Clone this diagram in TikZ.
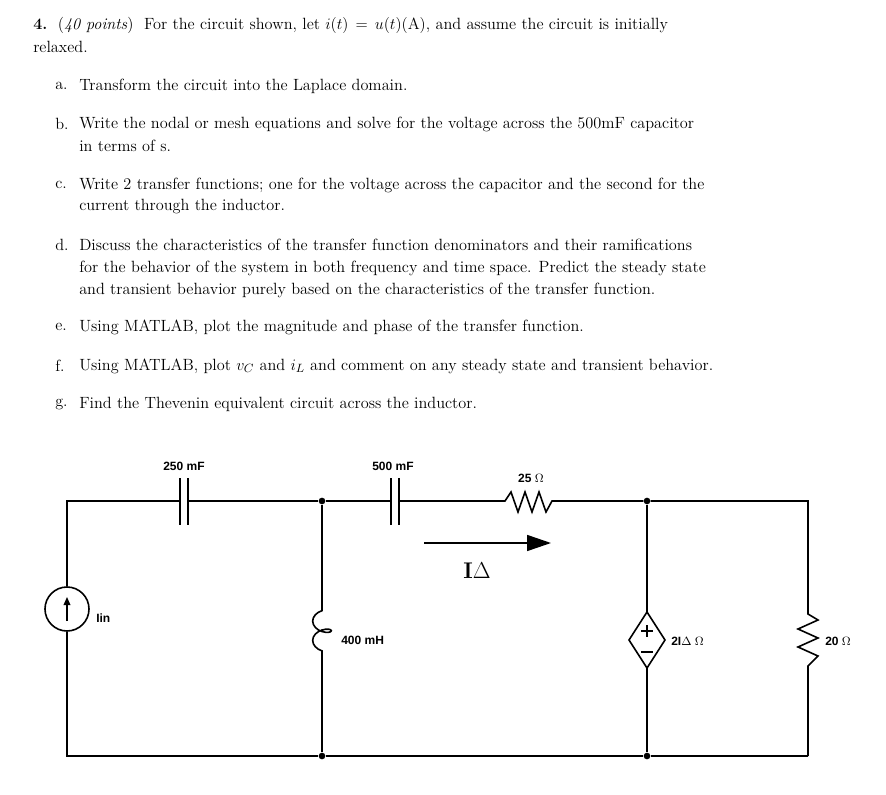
\documentclass[tikz,border=0pt]{standalone}
\usepackage{fontspec}
\newfontfamily\lab{Liberation Sans}
\usetikzlibrary{arrows.meta,decorations.pathmorphing,shapes.geometric}
\begin{document}
\begin{tikzpicture}[x=0.75pt,y=-0.75pt,
  txt/.style={anchor=west,inner sep=0pt,font=\fontsize{12.2}{14}\selectfont},
  clab/.style={inner sep=0pt,font=\lab\bfseries\fontsize{9}{10}\selectfont},
  wire/.style={line width=1.2pt},
  dot/.style={circle,fill=black,inner sep=0pt,minimum size=5pt}]
\useasboundingbox (0,0) rectangle (886,795);
% text
\node[txt] (t1) at (33,25) {\textbf{\large 4.}\ \ (\textit{40 points}) \ For the circuit shown, let $i(t)\,=\,u(t)(\mathrm{A})$, and assume the circuit is initially};
\node[txt] (t2) at (33,47) {relaxed.};
\node[txt] (la) at (55,86) {a.};
\node[txt] (ta) at (79,86) {Transform the circuit into the Laplace domain.};
\node[txt] (lb) at (55,124) {b.};
\node[txt] (tb) at (79,124) {Write the nodal or mesh equations and solve for the voltage across the 500mF capacitor};
\node[txt] (tb2) at (79,146) {in terms of s.};
\node[txt] (lc) at (55,185) {c.};
\node[txt] (tc) at (79,185) {Write 2 transfer functions; one for the voltage across the capacitor and the second for the};
\node[txt] (tc2) at (79,207) {current through the inductor.};
\node[txt] (ld) at (55,245) {d.};
\node[txt] (td) at (79,245) {Discuss the characteristics of the transfer function denominators and their ramifications};
\node[txt] (td2) at (79,268) {for the behavior of the system in both frequency and time space. Predict the steady state};
\node[txt] (td3) at (79,290) {and transient behavior purely based on the characteristics of the transfer function.};
\node[txt] (le) at (55,327) {e.};
\node[txt] (te) at (79,327) {Using MATLAB, plot the magnitude and phase of the transfer function.};
\node[txt] (lf) at (55,366) {f.};
\node[txt] (tf) at (79,366) {Using MATLAB, plot $v_C$ and $i_L$ and comment on any steady state and transient behavior.};
\node[txt] (lg) at (55,404) {g.};
\node[txt] (tg) at (79,404) {Find the Thevenin equivalent circuit across the inductor.};
% nodes
\coordinate (tl) at (67,501); \coordinate (bl) at (67,756);
\node[dot] (n1) at (322,501) {}; \node[dot] (n2) at (322,756) {};
\node[dot] (n3) at (647,501) {}; \node[dot] (n4) at (647,756) {};
\coordinate (tr) at (808,501); \coordinate (br) at (808,756);
% current source
\node[circle,draw,line width=1.2pt,minimum size=33pt,inner sep=0pt] (is) at (67,609) {};
\draw[line width=1pt,-{Triangle[length=6pt,width=5pt]}] (67,621) -- (67,597);
\node[clab,anchor=west] (lin) at (96,618) {Iin};
\draw[wire] (is.north) -- (tl) -- (180,501);
\draw[wire] (is.south) -- (bl) -- (n2) -- (n4) -- (br);
% C1
\draw[wire] (180,478) -- (180,525); \draw[wire] (188,478) -- (188,525);
\draw[wire] (188,501) -- (n1);
\node[clab] (c1) at (184,466) {250 mF};
% C2
\draw[wire] (n1) -- (391,501);
\draw[wire] (391,478) -- (391,525); \draw[wire] (399,478) -- (399,525);
\node[clab] (c2) at (393,466) {500 mF};
% R1
\draw[wire] (399,501) -- (505,501) -- (511,492) -- (518,512) -- (525,492) -- (532,512) -- (539,492) -- (546,512) -- (552,501) -- (n3);
\node[clab] (r1) at (531,478) {25 $\Omega$};
% arrow
\draw[line width=1.2pt,-{Triangle[length=18pt,width=12pt]}] (424,543) -- (551,543);
\node[font=\bfseries\fontsize{17}{18}\selectfont,inner sep=0pt] (ia) at (477,571) {I$\Delta$};
% inductor
\draw[wire] (n1) -- (322,610);
\draw[wire,decorate,decoration={coil,aspect=0.6,segment length=14.5pt,amplitude=7pt,mirror,pre length=2pt,post length=2pt}] (322,608) -- (322,672);
\draw[wire] (322,670) -- (n2);
\node[clab,anchor=west] (l1) at (341,640) {400 mH};
% dependent source
\coordinate (dsn) at (647,612); \coordinate (dss) at (647,668);
\draw[wire] (dsn) -- (665,640) -- (dss) -- (629,640) -- cycle;
\draw[line width=0.8pt] (641,631) -- (653,631) (647,625) -- (647,637) (641,652) -- (653,652);
\draw[wire] (n3) -- (dsn); \draw[wire] (dss) -- (n4);
\node[clab,anchor=west] (dl) at (671,641) {2I$\Delta$ $\Omega$};
% R2
\draw[wire] (n3) -- (tr) -- (808,614) -- (818,620) -- (798,629) -- (818,638) -- (798,647) -- (818,656) -- (808,666) -- (br);
\node[clab,anchor=west] (r2) at (825,641) {20 $\Omega$};
\end{tikzpicture}
\end{document}
